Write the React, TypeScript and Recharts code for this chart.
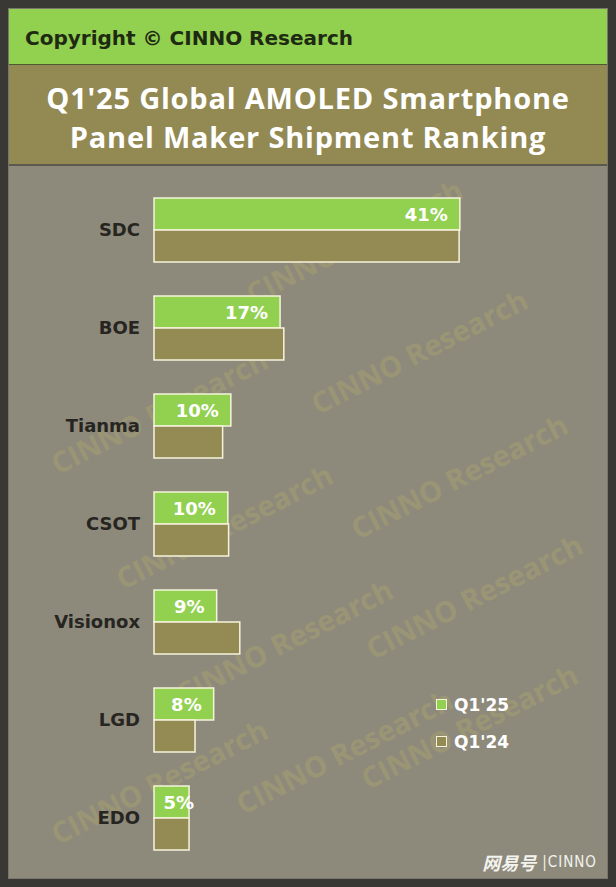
import React from "react";
import { BarChart, Bar, XAxis, YAxis, Legend, LabelList } from "recharts";

const categories = ["SDC", "BOE", "Tianma", "CSOT", "Visionox", "LGD", "EDO"];
const q125Values = [41, 16.9, 10.3, 9.9, 8.4, 8.0, 4.7];
const q124Values = [40.9, 17.4, 9.2, 10.0, 11.5, 5.5, 4.7];
const q125Labels = ["41%", "17%", "10%", "10%", "9%", "8%", "5%"];
const seriesNames = ["Q1'25", "Q1'24"];
const xDomain = [0, 50];

const data = categories.map((c, i) => ({
  name: c,
  q125: q125Values[i],
  q124: q124Values[i],
  label: q125Labels[i],
}));

const GREEN = "#92d050";
const OLIVE = "#948a54";
const GRAY = "#8e8a7b";
const STROKE = "#f6f3dc";

const watermarks: [number, number][] = [
  [345, 75], [410, 185], [150, 245], [450, 310], [215, 360],
  [465, 430], [275, 475], [335, 585], [460, 560], [150, 615],
];

const ValueLabel = (props: any) => {
  const { x, y, width, height, index } = props;
  const text = q125Labels[index];
  const est = text.length * 14;
  const end = Math.max(x + width - 12, x + 12 + est);
  return (
    <text
      x={end}
      y={y + height / 2}
      textAnchor="end"
      dominantBaseline="central"
      fill="#ffffff"
      fontFamily="DejaVu Sans"
      fontWeight="bold"
      fontSize={18}
    >
      {text}
    </text>
  );
};

const LegendContent = () => (
  <div style={{ fontFamily: "DejaVu Sans", fontWeight: "bold", fontSize: 17, color: "#ffffff" }}>
    {[GREEN, OLIVE].map((c, i) => (
      <div key={i} style={{ display: "flex", alignItems: "center", height: 37 }}>
        <div style={{ width: 9, height: 9, background: c, border: `1px solid ${STROKE}`, marginRight: 7 }} />
        <span>{seriesNames[i]}</span>
      </div>
    ))}
  </div>
);

export default function App() {
  return (
    <div
      style={{
        position: "absolute",
        left: 0,
        top: 0,
        width: 616,
        height: 887,
        background: "#3a3835",
        overflow: "hidden",
      }}
    >
      <div
        style={{
          position: "absolute",
          left: 9,
          top: 9,
          width: 598,
          height: 869,
          background: GRAY,
          boxShadow: "0 0 0 1px #77756c",
          overflow: "hidden",
        }}
      >
        <div
          style={{
            position: "absolute",
            left: 0,
            top: 0,
            width: 598,
            height: 56,
            background: GREEN,
            borderBottom: "1px solid #4e5a30",
            boxSizing: "border-box",
            fontFamily: "DejaVu Sans",
            fontWeight: "bold",
            fontSize: 20,
            color: "#1e2a12",
            lineHeight: "58px",
            paddingLeft: 16,
          }}
        >
          Copyright © CINNO Research
        </div>
        <div
          style={{
            position: "absolute",
            left: 0,
            top: 56,
            width: 598,
            height: 101,
            background: "#938953",
            borderBottom: "2px solid #5c5a4c",
            boxSizing: "border-box",
            fontFamily: "Open Sans",
            fontWeight: "bold",
            fontSize: 29,
            letterSpacing: 0.8,
            color: "#ffffff",
            textAlign: "center",
            lineHeight: "39px",
            paddingTop: 13,
          }}
        >
          <div>Q1'25 Global AMOLED Smartphone</div>
          <div>Panel Maker Shipment Ranking</div>
        </div>
        <svg
          width={598}
          height={712}
          style={{ position: "absolute", left: 0, top: 157 }}
        >
          {watermarks.map(([cx, cy], i) => (
            <text
              key={i}
              x={cx}
              y={cy}
              textAnchor="middle"
              dominantBaseline="central"
              transform={`rotate(-27 ${cx} ${cy})`}
              fill="#b3ac6a"
              fillOpacity={0.35}
              fontFamily="Open Sans"
              fontWeight="bold"
              fontSize={29}
            >
              CINNO Research
            </text>
          ))}
        </svg>
        <div style={{ position: "absolute", left: 0, top: 157 }}>
          <BarChart
            width={598}
            height={712}
            data={data}
            layout="vertical"
            barGap={0}
            margin={{ top: 15, right: 80, bottom: 11, left: 0 }}
          >
            <XAxis type="number" domain={xDomain} hide />
            <YAxis
              type="category"
              dataKey="name"
              width={145}
              axisLine={false}
              tickLine={false}
              tickSize={0}
              tickMargin={14}
              tick={{ fill: "#262521", fontFamily: "DejaVu Sans", fontWeight: "bold", fontSize: 18 }}
            />
            <Legend
              layout="vertical"
              align="center"
              verticalAlign="middle"
              content={<LegendContent />}
              wrapperStyle={{ left: 427, top: 520, width: 120 }}
            />
            <Bar
              dataKey="q125"
              name={seriesNames[0]}
              fill={GREEN}
              stroke={STROKE}
              strokeWidth={1.5}
              barSize={32}
              isAnimationActive={false}
            >
              <LabelList dataKey="label" content={<ValueLabel />} />
            </Bar>
            <Bar
              dataKey="q124"
              name={seriesNames[1]}
              fill={OLIVE}
              stroke={STROKE}
              strokeWidth={1.5}
              barSize={32}
              isAnimationActive={false}
            />
          </BarChart>
        </div>
        <div
          style={{
            position: "absolute",
            right: 10,
            bottom: 3,
            color: "#f2f2ee",
            display: "flex",
            alignItems: "center",
          }}
        >
          <span style={{ fontFamily: "Noto Sans CJK SC", fontWeight: "bold", fontStyle: "italic", fontSize: 18 }}>网易号</span>
          <span style={{ fontFamily: "DejaVu Sans Condensed, DejaVu Sans", fontSize: 15, marginLeft: 6, letterSpacing: 1 }}>|CINNO</span>
        </div>
      </div>
    </div>
  );
}
